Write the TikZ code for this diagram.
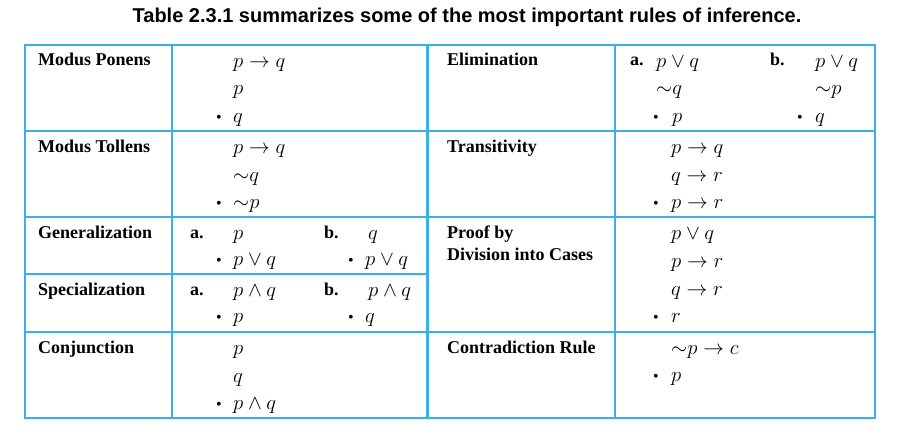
\documentclass[tikz,border=0pt]{standalone}
\usepackage{fontspec}
\setmainfont{Liberation Serif}
\newfontfamily\titlefont{Liberation Sans}
\begin{document}
\begin{tikzpicture}[x=1pt,y=-1pt,
  grid/.style={draw={rgb,255:red,60;green,175;blue,230},line width=1.3pt},
  lbl/.style={anchor=base west,inner sep=0pt,font=\fontsize{18}{21}\selectfont\bfseries},
  fm/.style={anchor=base west,inner sep=0pt,font=\fontsize{20}{23}\selectfont},
  bul/.style={anchor=base west,inner sep=0pt,font=\fontsize{16}{18}\selectfont}]
\useasboundingbox (0,0) rectangle (908,436);
\node[anchor=base,inner sep=0pt,font=\titlefont\fontsize{20}{24}\selectfont\bfseries] (title) at (467,23) {Table 2.3.1 summarizes some of the most important rules of inference.};
% grid
\draw[grid] (25,45) rectangle (875,418);
\draw[grid] (172,45) -- (172,418);
\draw[grid] (615,45) -- (615,418);
\draw[draw={rgb,255:red,60;green,175;blue,230},line width=3pt] (427,45) -- (427,418);
\draw[grid] (25,131) -- (875,131);
\draw[grid] (25,217) -- (875,217);
\draw[grid] (25,274) -- (427,274);
\draw[grid] (25,332) -- (875,332);
% left column labels
\node[lbl] (l1) at (38,66) {Modus Ponens};
\node[lbl] (l2) at (38,152) {Modus Tollens};
\node[lbl] (l3) at (38,238) {Generalization};
\node[lbl] (l4) at (38,295) {Specialization};
\node[lbl] (l5) at (38,353) {Conjunction};
% Modus ponens
\node[fm] (a1) at (233,67) {$p\rightarrow q$};
\node[fm] (a2) at (233,95) {$p$};
\node[bul] (a3b) at (216,122) {•};
\node[fm] (a3) at (233,122) {$q$};
% Modus tollens
\node[fm] (b1) at (233,153) {$p\rightarrow q$};
\node[fm] (b2) at (233,181) {${\sim}q$};
\node[bul] (b3b) at (216,208) {•};
\node[fm] (b3) at (233,208) {${\sim}p$};
% Generalization
\node[lbl] (ga) at (190,238) {a.};
\node[fm] (g1) at (233,239) {$p$};
\node[bul] (g2b) at (216,265) {•};
\node[fm] (g2) at (233,265) {$p\vee q$};
\node[lbl] (gb) at (324,238) {b.};
\node[fm] (g3) at (368,239) {$q$};
\node[bul] (g4b) at (348,265) {•};
\node[fm] (g4) at (365,265) {$p\vee q$};
% Specialization
\node[lbl] (sa) at (190,295) {a.};
\node[fm] (s1) at (233,296) {$p\wedge q$};
\node[bul] (s2b) at (216,322) {•};
\node[fm] (s2) at (233,322) {$p$};
\node[lbl] (sb) at (324,295) {b.};
\node[fm] (s3) at (368,296) {$p\wedge q$};
\node[bul] (s4b) at (348,322) {•};
\node[fm] (s4) at (365,322) {$q$};
% Conjunction
\node[fm] (c1) at (233,354) {$p$};
\node[fm] (c2) at (233,382) {$q$};
\node[bul] (c3b) at (216,409) {•};
\node[fm] (c3) at (233,409) {$p\wedge q$};
% right labels
\node[lbl] (r1) at (447,66) {Elimination};
\node[lbl] (r2) at (447,152) {Transitivity};
\node[lbl] (r3) at (447,238) {Proof by};
\node[lbl] (r3b) at (447,260) {Division into Cases};
\node[lbl] (r4) at (447,353) {Contradiction Rule};
% Elimination
\node[lbl] (ea) at (630,66) {a.};
\node[fm] (e1) at (656,67) {$p\vee q$};
\node[fm] (e2) at (656,95) {${\sim}q$};
\node[bul] (e3b) at (653,122) {•};
\node[fm] (e3) at (672,122) {$p$};
\node[lbl] (eb) at (770,66) {b.};
\node[fm] (e4) at (815,67) {$p\vee q$};
\node[fm] (e5) at (815,95) {${\sim}p$};
\node[bul] (e6b) at (797,122) {•};
\node[fm] (e6) at (815,122) {$q$};
% Transitivity
\node[fm] (t1) at (671,153) {$p\rightarrow q$};
\node[fm] (t2) at (671,181) {$q\rightarrow r$};
\node[bul] (t3b) at (653,208) {•};
\node[fm] (t3) at (671,208) {$p\rightarrow r$};
% Proof by cases
\node[fm] (d1) at (671,239) {$p\vee q$};
\node[fm] (d2) at (671,267) {$p\rightarrow r$};
\node[fm] (d3) at (671,295) {$q\rightarrow r$};
\node[bul] (d4b) at (653,322) {•};
\node[fm] (d4) at (671,322) {$r$};
% Contradiction
\node[fm] (k1) at (671,354) {${\sim}p\rightarrow c$};
\node[bul] (k2b) at (653,381) {•};
\node[fm] (k2) at (671,381) {$p$};
\end{tikzpicture}
\end{document}
